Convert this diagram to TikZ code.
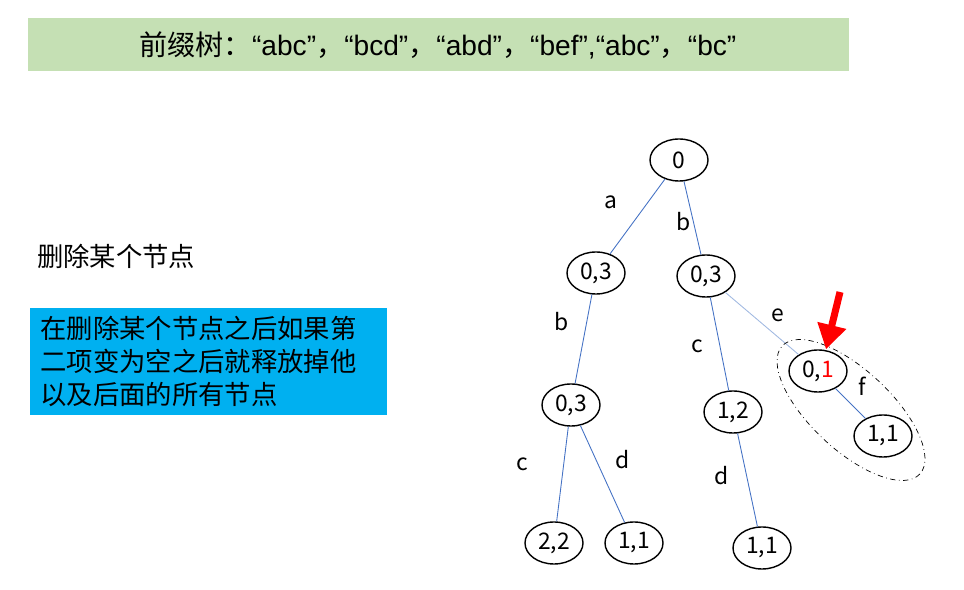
\documentclass[tikz,border=0pt]{standalone}
\usepackage{fontspec}
\setmainfont{Noto Sans CJK SC}
\newfontfamily\latfont{Liberation Sans}
\usetikzlibrary{arrows.meta,shapes.geometric}
\definecolor{titlegreen}{HTML}{C5E0B4}
\definecolor{notebl}{HTML}{00B0F0}
\definecolor{edgebl}{HTML}{4472C4}
\begin{document}
\begin{tikzpicture}[
    x=0.02cm, y=-0.02cm,
    trienode/.style={draw, thick, ellipse, minimum width=58*0.02cm, minimum height=42*0.02cm, inner sep=0pt, font=\fontsize{13}{15}\selectfont},
    edge/.style={edgebl, line width=0.5pt},
    elabel/.style={font=\fontsize{13}{15}\selectfont}
  ]
    \useasboundingbox (0,0) rectangle (964,590);
    % title and notes
    \fill[titlegreen] (28,18) rectangle (849,71);
    \node[font=\fontsize{16}{20}\selectfont] (title) at (438,45)
      {前缀树：{\latfont “abc”}，{\latfont “bcd”}，{\latfont “abd”}，{\latfont “bef”,“abc”}，{\latfont “bc”}};
    \node[anchor=west, font=\fontsize{15}{18}\selectfont] (del) at (31,256) {删除某个节点};
    \fill[notebl] (30,308) rectangle (387,415);
    \node[anchor=north west, align=left, inner sep=0pt, font=\fontsize{15}{18.7}\selectfont] (note) at (40,316)
      {在删除某个节点之后如果第\\二项变为空之后就释放掉他\\以及后面的所有节点};
    % nodes
    \node[trienode] (root) at (679,160) {0};
    \node[trienode] (a) at (596,273) {0,3};
    \node[trienode] (b) at (706,276) {0,3};
    \node[trienode] (ab) at (571,405) {0,3};
    \node[trienode] (bc) at (733,412) {1,2};
    \node[trienode] (be) at (818,371) {0,{\color{red}1}};
    \node[trienode] (bef) at (883,436) {1,1};
    \node[trienode] (abc) at (554,543) {2,2};
    \node[trienode] (abd) at (634,543) {1,1};
    \node[trienode] (bcd) at (762,548) {1,1};
    % edges
    \draw[edge] (root) -- (a);
    \draw[edge] (root) -- (b);
    \draw[edge] (a) -- (ab);
    \draw[edge] (ab) -- (abc);
    \draw[edge] (ab) -- (abd);
    \draw[edge] (b) -- (bc);
    \draw[edge, edgebl!50] (b) -- (be);
    \draw[edge] (be) -- (bef);
    \draw[edge] (bc) -- (bcd);
    % edge labels
    \node[elabel] (la) at (611,202) {a};
    \node[elabel] (lb) at (684,222) {b};
    \node[elabel] (lab) at (562,322) {b};
    \node[elabel] (le) at (778,315) {e};
    \node[elabel] (lc) at (697,346) {c};
    \node[elabel] (lf) at (862,386) {f};
    \node[elabel] (lac) at (522,464) {c};
    \node[elabel] (lad) at (623,460) {d};
    \node[elabel] (lbd) at (722,476) {d};
    % removed part
    \draw[dash dot, thin] (851,410) ellipse[x radius=94, y radius=40, rotate=-43];
    \coordinate (arrtop) at (840,292);
    \draw[red, line width=4pt, -{Triangle[length=14pt, width=16pt]}] (arrtop) -- ([xshift=8*0.02cm]be.north);
\end{tikzpicture}
\end{document}
